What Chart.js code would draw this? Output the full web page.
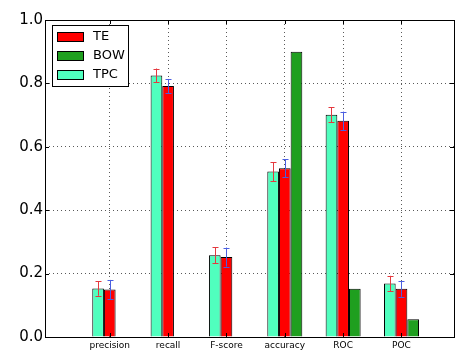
<!DOCTYPE html>
<html>
<head>
<meta charset="utf-8">
<script src="https://cdn.jsdelivr.net/npm/chart.js@4.4.0/dist/chart.umd.min.js"></script>
<style>
  html, body { margin: 0; padding: 0; background: #fff; }
  #chart { display: block; }
</style>
</head>
<body>
<canvas id="chart" width="474" height="353"></canvas>
<script>
// data
var categories = ['precision', 'recall', 'F-score', 'accuracy', 'ROC', 'POC'];
var tpcValues = [0.153, 0.825, 0.258, 0.522, 0.701, 0.169];
var teValues  = [0.150, 0.792, 0.252, 0.532, 0.682, 0.152];
var bowValues = [null, null, null, 0.900, 0.152, 0.056];
var tpcErrors = [0.023, 0.022, 0.025, 0.030, 0.024, 0.024];
var teErrors  = [0.030, 0.022, 0.030, 0.028, 0.029, 0.025];
var yTicks = [0, 0.2, 0.4, 0.6, 0.8, 1.0];

var xMin = -1.11, xMax = 5.9;

function points(values) {
  return values.map(function(v, i) { return { x: i, y: v }; });
}

// error bars on TPC (red) and TE (blue)
var errorBars = {
  id: 'errorBars',
  afterDatasetsDraw: function(chart) {
    var ctx = chart.ctx;
    var y = chart.scales.y;
    var sets = [
      { index: 0, values: tpcValues, errors: tpcErrors, color: '#e4393f' },
      { index: 1, values: teValues, errors: teErrors, color: '#4b5fe0' }
    ];
    ctx.save();
    ctx.lineWidth = 1;
    sets.forEach(function(s) {
      var meta = chart.getDatasetMeta(s.index);
      meta.data.forEach(function(bar, i) {
        var v = s.values[i];
        if (v === null) return;
        var x = Math.round(bar.x) + 0.5;
        var top = y.getPixelForValue(v + s.errors[i]);
        var bot = y.getPixelForValue(v - s.errors[i]);
        ctx.strokeStyle = s.color;
        ctx.beginPath();
        ctx.moveTo(x, top); ctx.lineTo(x, bot);
        ctx.moveTo(x - 3, Math.round(top) + 0.5); ctx.lineTo(x + 3, Math.round(top) + 0.5);
        ctx.moveTo(x - 3, Math.round(bot) + 0.5); ctx.lineTo(x + 3, Math.round(bot) + 0.5);
        ctx.stroke();
      });
    });
    ctx.restore();
  }
};

// axes box with inward ticks, and the legend box
var frameAndLegend = {
  id: 'frameAndLegend',
  afterDraw: function(chart) {
    var ctx = chart.ctx;
    var a = chart.chartArea;
    ctx.save();
    ctx.strokeStyle = '#000';
    ctx.lineWidth = 1;
    ctx.strokeRect(Math.round(a.left) + 0.5, Math.round(a.top) + 0.5,
                   Math.round(a.right - a.left), Math.round(a.bottom - a.top));

    ctx.beginPath();
    chart.scales.y.ticks.forEach(function(t) {
      var py = Math.round(chart.scales.y.getPixelForValue(t.value)) + 0.5;
      ctx.moveTo(a.left, py); ctx.lineTo(a.left + 4, py);
      ctx.moveTo(a.right, py); ctx.lineTo(a.right - 4, py);
    });
    chart.scales.x.ticks.forEach(function(t) {
      var px = Math.round(chart.scales.x.getPixelForValue(t.value)) + 0.5;
      ctx.moveTo(px, a.bottom); ctx.lineTo(px, a.bottom - 4);
      ctx.moveTo(px, a.top); ctx.lineTo(px, a.top + 4);
    });
    ctx.stroke();

    // legend
    var order = [1, 2, 0];
    var lx = a.left + 7, ly = a.top + 5;
    ctx.fillStyle = '#fff';
    ctx.fillRect(lx, ly, 76, 61);
    ctx.strokeRect(lx + 0.5, ly + 0.5, 76, 61);
    ctx.font = '13px "DejaVu Sans"';
    ctx.textBaseline = 'middle';
    order.forEach(function(d, k) {
      var ds = chart.data.datasets[d];
      var cy = ly + 11 + k * 19;
      ctx.fillStyle = ds.backgroundColor;
      ctx.fillRect(lx + 5, cy - 4, 26, 9);
      ctx.strokeRect(lx + 5.5, cy - 3.5, 26, 9);
      ctx.fillStyle = '#000';
      ctx.fillText(ds.label, lx + 41, cy + 1);
    });
    ctx.restore();
  }
};

var ctx = document.getElementById('chart');

var data = {
  datasets: [
    {
      label: 'TPC',
      data: points(tpcValues),
      backgroundColor: '#50ffbe',
      borderColor: '#000',
      borderWidth: 1,
      borderSkipped: 'bottom'
    },
    {
      label: 'TE',
      data: points(teValues),
      backgroundColor: '#ff0000',
      borderColor: '#000',
      borderWidth: 1,
      borderSkipped: 'bottom'
    },
    {
      label: 'BOW',
      data: points(bowValues),
      backgroundColor: '#1f9f1f',
      borderColor: '#000',
      borderWidth: 1,
      borderSkipped: 'bottom'
    }
  ]
};

var options = {
  responsive: false,
  animation: false,
  categoryPercentage: 0.6,
  barPercentage: 1.0,
  layout: { padding: { top: 20, right: 20, left: 0, bottom: 0 } },
  plugins: {
    legend: { display: false },
    tooltip: { enabled: false }
  },
  scales: {
    x: {
      type: 'linear',
      min: xMin,
      max: xMax,
      offset: false,
      z: 1,
      afterBuildTicks: function(scale) {
        scale.ticks = categories.map(function(c, i) { return { value: i }; });
      },
      afterFit: function(scale) { scale.height = 16; },
      ticks: {
        padding: 3,
        autoSkip: false,
        maxRotation: 0,
        color: '#000',
        font: { family: 'DejaVu Sans', size: 9 },
        callback: function(v) { return categories[v]; }
      },
      grid: { color: 'rgba(0,0,0,0.65)', drawTicks: false, offset: false },
      border: { display: false, dash: [1, 3] }
    },
    y: {
      min: 0,
      max: 1,
      z: 1,
      afterBuildTicks: function(scale) {
        scale.ticks = yTicks.map(function(v) { return { value: v }; });
      },
      afterFit: function(scale) { scale.width = 45; },
      ticks: {
        padding: 2,
        color: '#000',
        font: { family: 'DejaVu Sans', size: 15 },
        callback: function(v) { return v.toFixed(1); }
      },
      grid: { color: 'rgba(0,0,0,0.65)', drawTicks: false },
      border: { display: false, dash: [1, 3] }
    }
  }
};

var chart = new Chart(ctx, {
  type: 'bar',
  data: data,
  options: options,
  plugins: [errorBars, frameAndLegend]
});
</script>
</body>
</html>
